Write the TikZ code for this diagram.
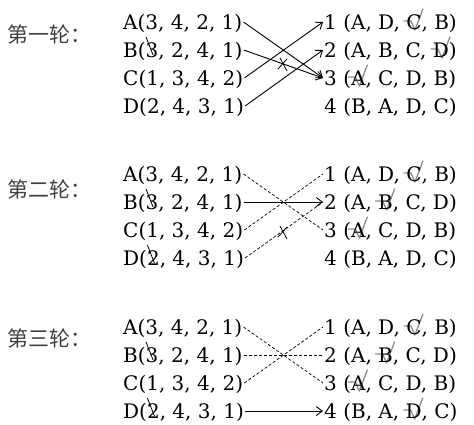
\documentclass[tikz,border=0pt]{standalone}
\usepackage{fontspec}
\setmainfont{DejaVu Serif}
\newfontfamily\cjk{Noto Sans CJK SC}
\usetikzlibrary{arrows.meta}
\newsavebox\mkbox
\newcommand\rowfont{\fontsize{20}{24}\selectfont}
% overlay a mark centred on a letter, origin at letter centre / cap middle
\newcommand\markon[2]{\sbox\mkbox{#2}\rlap{\hbox to\wd\mkbox{\hss\tikz[x=1pt,y=-1pt,overlay,baseline=0pt]\pic at (0,-7.5) {#1};\hss}}\usebox\mkbox}
\newcommand\mytick[1]{\markon{tickmk}{#1}}
\newcommand\myslash[1]{\markon{slashmk}{#1}}
\tikzset{
  rowtxt/.style={font=\rowfont, inner sep=1pt, text height=15pt, text depth=0pt, anchor=west},
  lbl/.style={font=\cjk\fontsize{21}{21}\selectfont, text=black!75, anchor=west, inner sep=0pt},
  arr/.style={line width=0.9pt, -{Straight Barb[length=6pt,width=9pt]}},
  dsh/.style={line width=0.7pt, dash pattern=on 3pt off 2pt},
  tickc/.style={draw=black!45, line width=1.3pt, line cap=round, line join=round},
  tickmk/.pic={\draw[tickc] (-10,-1)--(-3,-1) (-3,-1)--(1,8)--(9,-13);},
  slashmk/.pic={\draw[line width=0.8pt] (-6,-13)--(1,5);},
  crossmk/.pic={\draw[line width=0.8pt] (-3,-6)--(4,7) (-5,5)--(4,-5);}
}
\begin{document}
\begin{tikzpicture}[x=1pt,y=-1pt]
\useasboundingbox (0,0) rectangle (474,424);
% Round 1
\node[lbl] (l1) at (7,34) {第一轮：};
\node[rowtxt] (r1a) at (122,22) {A(3, 4, 2, 1)};
\node[rowtxt] (r1b) at (122,50) {B(\myslash{3}, 2, 4, 1)};
\node[rowtxt] (r1c) at (122,78) {C(1, 3, 4, 2)};
\node[rowtxt] (r1d) at (122,106) {D(2, 4, 3, 1)};
\node[rowtxt] (r1n1) at (323,22) {1 (A, D, \mytick{C}, B)};
\node[rowtxt] (r1n2) at (323,50) {2 (A, B, C, \mytick{D})};
\node[rowtxt] (r1n3) at (323,78) {3 (\mytick{A}, C, D, B)};
\node[rowtxt] (r1n4) at (323,106) {4 (B, A, D, C)};
\draw[arr] (r1a.east) -- (r1n3.west);
\draw[arr] (r1b.east) -- (r1n3.west);
\draw[arr] (r1c.east) -- (r1n1.west);
\draw[arr] (r1d.east) -- (r1n2.west);
\pic at (283,64) {crossmk};
% Round 2
\node[lbl] (l2) at (7,189) {第二轮：};
\node[rowtxt] (r2a) at (122,174) {A(3, 4, 2, 1)};
\node[rowtxt] (r2b) at (122,202) {B(\myslash{3}, 2, 4, 1)};
\node[rowtxt] (r2c) at (122,230) {C(1, 3, 4, 2)};
\node[rowtxt] (r2d) at (122,258) {D(\myslash{2}, 4, 3, 1)};
\node[rowtxt] (r2n1) at (323,174) {1 (A, D, \mytick{C}, B)};
\node[rowtxt] (r2n2) at (323,202) {2 (A, \mytick{B}, C, D)};
\node[rowtxt] (r2n3) at (323,230) {3 (\mytick{A}, C, D, B)};
\node[rowtxt] (r2n4) at (323,258) {4 (B, A, D, C)};
\draw[dsh] (r2a.east) -- (r2n3.west);
\draw[arr] (r2b.east) -- (r2n2.west);
\draw[dsh] (r2c.east) -- (r2n1.west);
\draw[dsh] (r2d.east) -- (r2n2.west);
\pic at (283,232) {crossmk};
% Round 3
\node[lbl] (l3) at (7,338) {第三轮：};
\node[rowtxt] (r3a) at (122,327) {A(3, 4, 2, 1)};
\node[rowtxt] (r3b) at (122,355) {B(\myslash{3}, 2, 4, 1)};
\node[rowtxt] (r3c) at (122,383) {C(1, 3, 4, 2)};
\node[rowtxt] (r3d) at (122,411) {D(\myslash{2}, 4, 3, 1)};
\node[rowtxt] (r3n1) at (323,327) {1 (A, D, \mytick{C}, B)};
\node[rowtxt] (r3n2) at (323,355) {2 (A, \mytick{B}, C, D)};
\node[rowtxt] (r3n3) at (323,383) {3 (\mytick{A}, C, D, B)};
\node[rowtxt] (r3n4) at (323,411) {4 (B, A, \mytick{D}, C)};
\draw[dsh] (r3a.east) -- (r3n3.west);
\draw[dsh] (r3b.east) -- (r3n2.west);
\draw[dsh] (r3c.east) -- (r3n1.west);
\draw[arr] (r3d.east) -- (r3n4.west);
\end{tikzpicture}
\end{document}
